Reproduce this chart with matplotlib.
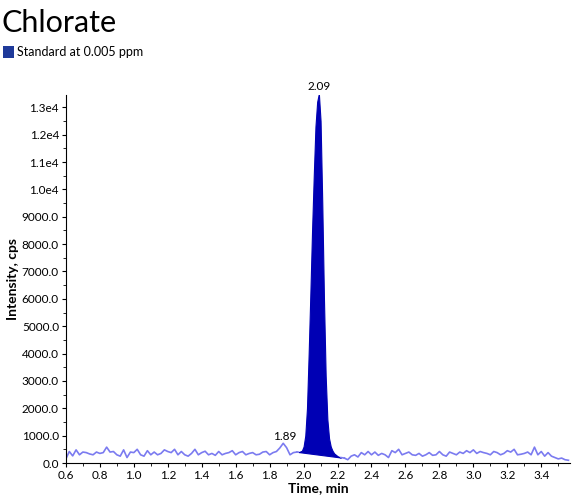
import matplotlib
matplotlib.use("Agg")
import matplotlib.pyplot as plt
import numpy as np
from matplotlib.patches import Rectangle

base1_t = np.round(np.arange(0.60, 1.97, 0.02), 2)
base1_y = [150,420,260,480,300,400,380,330,300,400,350,380,580,400,420,300,250,480,200,400,
           380,500,300,250,450,300,400,300,350,480,420,380,500,300,420,300,250,350,500,300,
           380,430,300,350,280,420,300,350,380,450,300,380,420,300,350,380,300,320,400,420,
           300,380,420,550,720,560,300,380,400][:len(base1_t)]
peak_t = np.round(np.arange(1.97, 2.225, 0.01), 2)
peak_y = [400,420,450,600,1000,2000,4000,6200,8500,10500,12300,13200,13500,12500,9500,
          6000,3200,1600,900,600,450,350,300,250,220,200][:len(peak_t)]
base2_t = np.round(np.arange(2.24, 3.57, 0.02), 2)
base2_y = [180,120,250,300,220,380,300,420,300,400,280,350,300,200,450,380,500,300,350,400,
           300,280,350,250,300,380,280,300,420,300,250,400,350,300,400,350,450,380,480,350,
           420,380,350,300,420,380,300,350,450,400,500,300,320,350,400,300,580,300,420,250,
           380,250,200,150,180,120,100][:len(base2_t)]

title = "Chlorate"
legend_label = "Standard at 0.005 ppm"
xticks = [0.6,0.8,1.0,1.2,1.4,1.6,1.8,2.0,2.2,2.4,2.6,2.8,3.0,3.2,3.4]
yticks = [0,1000,2000,3000,4000,5000,6000,7000,8000,9000,10000,11000,12000,13000]
ylabels = ["0.0","1000.0","2000.0","3000.0","4000.0","5000.0","6000.0","7000.0","8000.0",
           "9000.0","1.0e4","1.1e4","1.2e4","1.3e4"]

plt.rcParams['font.family'] = ['Lato', 'DejaVu Sans']
fig = plt.figure(figsize=(5.73, 5.0), dpi=100)
ax = fig.add_axes([0.115, 0.074, 0.88, 0.736])
light = "#7b7bf0"
dark = "#0000b4"
ax.plot(base1_t, base1_y, color=light, lw=1.2)
ax.plot(base2_t, base2_y, color=light, lw=1.2)
ax.plot([base1_t[-1], peak_t[0]], [base1_y[-1], peak_y[0]], color=light, lw=1.2)
ax.plot([peak_t[-1], base2_t[0]], [peak_y[-1], base2_y[0]], color=light, lw=1.2)
bl = np.interp(peak_t, [peak_t[0], peak_t[-1]], [peak_y[0], peak_y[-1]])
ax.fill_between(peak_t, bl, peak_y, color=dark, lw=0.8, edgecolor=dark)
ax.text(1.89, 760, "1.89", ha="center", va="bottom", fontsize=8.5)
ax.text(2.09, 13550, "2.09", ha="center", va="bottom", fontsize=8.5)
ax.set_xlim(0.6, 3.57)
ax.set_ylim(0, 13450)
ax.set_xticks(xticks)
ax.set_xticklabels([f"{v:.1f}" for v in xticks], fontsize=8.5)
ax.set_yticks(yticks)
ax.set_yticklabels(ylabels, fontsize=8.5)
ax.set_xticks(np.arange(0.7, 3.6, 0.2), minor=True)
ax.set_yticks(np.arange(500, 13450, 1000), minor=True)
ax.tick_params(which="major", length=3, pad=2)
ax.tick_params(which="minor", length=2)
for s in ["top", "right"]:
    ax.spines[s].set_visible(False)
ax.set_xlabel("Time, min", fontsize=10, fontweight="bold", labelpad=1)
ax.set_ylabel("Intensity, cps", fontsize=10, fontweight="bold", labelpad=2)
fig.text(0.003, 0.955, title, fontsize=22, va="center", ha="left")
fig.patches.append(Rectangle((0.005, 0.884), 0.019, 0.024, transform=fig.transFigure,
                             facecolor="#1f3a9a", edgecolor="none"))
fig.text(0.03, 0.896, legend_label, fontsize=9, va="center", ha="left")
fig.savefig("out.png", dpi=100)
